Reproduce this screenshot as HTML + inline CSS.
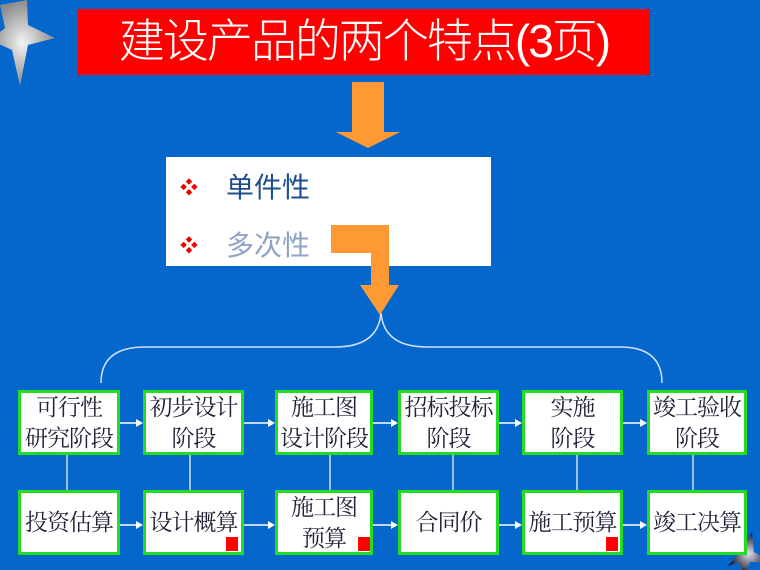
<!DOCTYPE html>
<html><head><meta charset="utf-8"><style>
html,body{margin:0;padding:0}
body{width:760px;height:570px;background:#0566cb;position:relative;overflow:hidden;font-family:"Liberation Serif","Noto Serif CJK SC",serif}
.title{position:absolute;left:78px;top:9px;width:572px;height:66px;background:#ff0000;color:#fff;font-family:"Liberation Sans","Noto Sans CJK SC",sans-serif;font-size:46px;line-height:64px;text-align:center;letter-spacing:-2px;font-weight:300}
.wb{position:absolute;left:166px;top:157px;width:325px;height:109px;background:#fff}
.it{position:absolute;left:180px;font-family:"Liberation Sans","Noto Sans CJK SC",sans-serif;font-size:28px}
.it b{color:#e00;font-size:18px;margin-right:28px;vertical-align:3px}
.box{position:absolute;box-sizing:border-box;background:#fff;border:3px solid #22dd22;color:#222238;font-size:23px;line-height:31px;display:flex;align-items:center;justify-content:center;text-align:center;white-space:nowrap;letter-spacing:-1px}
.r{position:absolute;width:12px;height:14px;background:#f00}
</style></head><body>
<svg width="760" height="570" style="position:absolute;left:0;top:0">
<defs><radialGradient id="g"><stop offset="0" stop-color="#f4f4f4"/><stop offset="1" stop-color="#8a8a8a"/></radialGradient>
<radialGradient id="d"><stop offset="0" stop-color="#dde"/><stop offset="1" stop-color="#112"/></radialGradient></defs>
<polygon points="27,0 28,25 55,38 28,45 20,86 12,50 -10,40 5,28 0,5" fill="url(#g)"/>
<polygon points="752,532 754,552 770,562 750,562 745,575 738,562 728,566 740,552" fill="url(#d)"/>
<polygon points="352,82 384,82 384,132 400,132 368,148 336,132 352,132" fill="#ff9933"/>
<g stroke="#cfe0ff" stroke-width="1.5" fill="none">
<path d="M101,383 Q101,347 145,347 L335,347 Q378,347 381,313 Q384,347 427,347 L620,347 Q662,347 662,383"/>
<line x1="67" y1="455" x2="67" y2="490"/><line x1="190" y1="455" x2="190" y2="490"/>
<line x1="330" y1="455" x2="330" y2="490"/><line x1="453" y1="455" x2="453" y2="490"/>
<line x1="577" y1="455" x2="577" y2="490"/><line x1="693" y1="455" x2="693" y2="490"/>
</g>
<g stroke="#fff" stroke-width="1.5">
<line x1="120" y1="423" x2="138" y2="423"/><line x1="244" y1="423" x2="268" y2="423"/><line x1="373" y1="423" x2="392" y2="423"/><line x1="499" y1="423" x2="516" y2="423"/><line x1="623" y1="423" x2="641" y2="423"/>
<line x1="120" y1="525" x2="138" y2="525"/><line x1="244" y1="525" x2="268" y2="525"/><line x1="373" y1="525" x2="392" y2="525"/><line x1="499" y1="525" x2="516" y2="525"/><line x1="623" y1="525" x2="641" y2="525"/>
</g>
<g fill="#fff">
<polygon points="143,423 136,419 136,427"/><polygon points="275,423 268,419 268,427"/><polygon points="398,423 391,419 391,427"/><polygon points="522,423 515,419 515,427"/><polygon points="647,423 640,419 640,427"/>
<polygon points="143,525 136,521 136,529"/><polygon points="275,525 268,521 268,529"/><polygon points="398,525 391,521 391,529"/><polygon points="522,525 515,521 515,529"/><polygon points="647,525 640,521 640,529"/>
</g>
</svg>
<div class="title">建设产品的两个特点(3页)</div>
<div class="wb"></div>
<div class="it" style="top:166px;color:#1f4e8c"><b>❖</b>单件性</div>
<div class="it" style="top:224px;color:#8ea4c4"><b>❖</b>多次性</div>
<svg width="760" height="570" style="position:absolute;left:0;top:0">
<polygon points="331,225 389,225 389,285 399,285 380,315 360,285 371,285 371,253 331,253" fill="#ff9933"/>
</svg>
<div class="box" style="left:18px;top:390px;width:102px;height:65px">可行性<br>研究阶段</div>
<div class="box" style="left:143px;top:390px;width:101px;height:65px">初步设计<br>阶段</div>
<div class="box" style="left:275px;top:390px;width:98px;height:65px">施工图<br>设计阶段</div>
<div class="box" style="left:398px;top:390px;width:101px;height:65px">招标投标<br>阶段</div>
<div class="box" style="left:522px;top:390px;width:101px;height:65px">实施<br>阶段</div>
<div class="box" style="left:647px;top:390px;width:100px;height:65px">竣工验收<br>阶段</div>
<div class="box" style="left:18px;top:490px;width:102px;height:65px">投资估算</div>
<div class="box" style="left:143px;top:490px;width:101px;height:65px">设计概算</div>
<div class="box" style="left:275px;top:490px;width:98px;height:65px">施工图<br>预算</div>
<div class="box" style="left:398px;top:490px;width:101px;height:65px">合同价</div>
<div class="box" style="left:522px;top:490px;width:101px;height:65px">施工预算</div>
<div class="box" style="left:647px;top:490px;width:100px;height:65px">竣工决算</div>
<div class="r" style="left:226px;top:537px"></div>
<div class="r" style="left:358px;top:537px"></div>
<div class="r" style="left:606px;top:537px"></div>
</body></html>
